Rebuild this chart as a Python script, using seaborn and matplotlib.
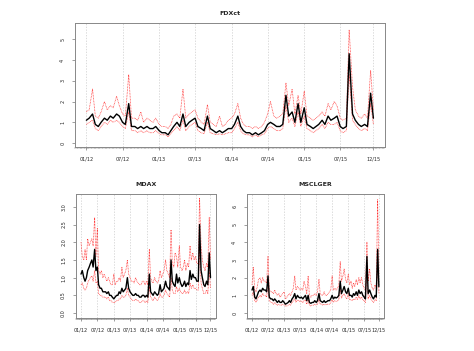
import seaborn as sns
import matplotlib.pyplot as plt
import matplotlib.dates as mdates
import pandas as pd

# semi-monthly dates, Jan 2012 - Dec 2015
dates = pd.date_range("2012-01-01", periods=96, freq="SMS")

fdx_mid = [1.1, 1.2, 1.4, 0.9, 0.8, 1.0, 1.2, 1.1, 1.3, 1.2, 1.4, 1.3, 1.0, 0.9, 1.9, 0.8, 0.8, 0.7, 0.8, 0.7, 0.8, 0.7, 0.7, 0.8,
           0.6, 0.5, 0.5, 0.4, 0.6, 0.8, 1.0, 0.8, 1.4, 0.8, 1.0, 1.1, 1.2, 0.8, 0.7, 0.6, 1.3, 0.7, 0.6, 0.5, 0.6, 0.5, 0.6, 0.7,
           0.7, 0.9, 1.3, 0.8, 0.6, 0.5, 0.5, 0.4, 0.5, 0.4, 0.5, 0.6, 0.9, 1.0, 0.9, 0.8, 0.8, 0.9, 2.3, 1.3, 1.5, 1.0, 1.9, 1.0,
           1.7, 0.9, 0.8, 0.7, 0.8, 0.9, 1.1, 0.9, 1.3, 1.1, 1.2, 1.3, 0.8, 0.7, 0.8, 4.3, 1.4, 1.1, 0.9, 0.8, 0.9, 0.8, 2.4, 1.2]
fdx_up = [1.5, 1.6, 2.6, 1.3, 1.2, 1.5, 2.0, 1.6, 1.8, 1.7, 2.25, 1.8, 1.4, 1.3, 3.3, 1.2, 1.2, 1.1, 1.5, 1.0, 1.2, 1.1, 1.0, 1.2,
          0.9, 0.8, 0.8, 0.7, 0.9, 1.3, 1.4, 1.2, 2.6, 1.2, 1.4, 1.5, 1.6, 1.2, 1.0, 0.9, 1.85, 1.0, 0.9, 0.8, 1.3, 0.8, 0.9, 1.1,
          1.2, 1.4, 1.9, 1.2, 0.9, 0.8, 0.8, 0.7, 0.8, 0.7, 0.8, 1.0, 1.4, 2.0, 1.3, 1.2, 1.3, 1.4, 2.9, 1.8, 2.6, 1.4, 2.3, 1.4,
          2.5, 1.3, 1.2, 1.1, 1.2, 1.3, 1.5, 1.3, 1.9, 1.6, 2.0, 1.8, 1.2, 1.1, 1.2, 5.45, 2.7, 1.6, 1.3, 1.2, 1.4, 1.2, 3.5, 1.6]
fdx_lo = [0.9, 1.0, 1.1, 0.7, 0.6, 0.8, 1.0, 0.9, 1.1, 1.0, 1.1, 1.0, 0.8, 0.7, 1.5, 0.6, 0.6, 0.5, 0.6, 0.5, 0.6, 0.5, 0.5, 0.6,
          0.45, 0.4, 0.4, 0.3, 0.45, 0.6, 0.8, 0.6, 1.1, 0.6, 0.8, 0.9, 1.0, 0.6, 0.5, 0.45, 1.0, 0.5, 0.45, 0.4, 0.45, 0.4, 0.45, 0.5,
          0.5, 0.7, 1.0, 0.6, 0.45, 0.4, 0.4, 0.3, 0.4, 0.3, 0.4, 0.45, 0.7, 0.8, 0.7, 0.6, 0.6, 0.7, 1.8, 1.0, 1.2, 0.8, 1.5, 0.8,
          1.3, 0.7, 0.6, 0.5, 0.6, 0.7, 0.9, 0.7, 1.0, 0.9, 0.9, 1.0, 0.6, 0.5, 0.6, 3.3, 1.1, 0.9, 0.7, 0.6, 0.7, 0.6, 1.9, 0.9]

mdax_mid = [1.1, 1.2, 1.0, 0.9, 1.0, 1.2, 1.3, 1.4, 1.5, 1.3, 1.8, 1.2, 1.3, 0.8, 0.7, 0.7, 0.6, 0.6, 0.6, 0.55, 0.6, 0.5, 0.5, 0.45,
            0.4, 0.45, 0.5, 0.5, 0.6, 0.55, 0.7, 0.6, 0.65, 0.7, 1.0, 0.7, 0.6, 0.55, 0.5, 0.5, 0.55, 0.5, 0.5, 0.45, 0.45, 0.5, 0.5, 0.45,
            0.5, 0.45, 1.1, 0.6, 0.55, 0.5, 0.6, 0.55, 0.5, 0.55, 0.8, 0.6, 0.65, 0.7, 0.9, 0.75, 0.7, 0.65, 1.5, 0.9, 0.8, 0.75, 1.1, 0.85,
            1.0, 0.85, 0.75, 0.8, 0.9, 0.75, 0.85, 0.8, 1.2, 0.95, 1.1, 1.0, 1.0, 0.9, 0.9, 2.5, 1.2, 1.0, 0.8, 0.75, 0.9, 0.8, 1.7, 1.0]
mdax_up = [2.0, 1.6, 1.5, 1.8, 1.5, 2.1, 1.9, 2.0, 2.1, 1.9, 2.7, 1.6, 2.4, 1.2, 1.1, 1.2, 1.0, 1.1, 1.0, 0.9, 1.0, 0.9, 0.8, 0.8,
           1.1, 0.8, 0.9, 0.9, 1.0, 0.9, 1.3, 1.0, 1.1, 1.2, 1.5, 1.1, 1.0, 0.9, 0.9, 0.85, 1.0, 0.9, 0.85, 0.8, 0.8, 0.9, 0.9, 0.8,
           0.9, 0.8, 1.8, 1.0, 0.9, 0.85, 1.0, 0.9, 0.85, 0.9, 1.2, 1.0, 1.1, 1.2, 1.5, 1.2, 1.1, 1.0, 2.35, 1.4, 1.3, 1.7, 1.6, 1.3,
           1.9, 1.3, 1.2, 1.3, 1.5, 1.2, 1.4, 1.3, 1.9, 1.5, 1.7, 1.5, 1.6, 1.4, 1.4, 3.25, 1.9, 1.5, 1.3, 1.2, 1.4, 1.3, 2.7, 1.5]
mdax_lo = [0.8, 0.85, 0.7, 0.65, 0.7, 0.85, 0.95, 1.0, 1.05, 0.9, 1.2, 0.85, 0.9, 0.55, 0.5, 0.5, 0.45, 0.45, 0.45, 0.4, 0.45, 0.35, 0.35, 0.3,
           0.3, 0.3, 0.35, 0.35, 0.4, 0.4, 0.5, 0.45, 0.45, 0.5, 0.7, 0.5, 0.45, 0.4, 0.35, 0.35, 0.4, 0.35, 0.35, 0.3, 0.3, 0.35, 0.35, 0.3,
           0.35, 0.3, 0.75, 0.45, 0.4, 0.35, 0.45, 0.4, 0.35, 0.4, 0.55, 0.45, 0.45, 0.5, 0.65, 0.55, 0.5, 0.45, 1.0, 0.65, 0.55, 0.55, 0.75, 0.6,
           0.7, 0.6, 0.55, 0.55, 0.65, 0.55, 0.6, 0.55, 0.85, 0.7, 0.8, 0.7, 0.7, 0.65, 0.65, 1.8, 0.85, 0.7, 0.55, 0.55, 0.65, 0.55, 1.2, 0.7]

mscl_mid = [1.3, 1.5, 0.9, 0.8, 1.0, 1.2, 1.3, 1.2, 1.4, 1.3, 1.3, 1.2, 2.1, 0.9, 0.8, 0.8, 0.7, 0.8, 0.7, 0.6, 0.7, 0.6, 0.6, 0.7,
            0.6, 0.5, 0.55, 0.6, 0.7, 0.6, 0.8, 0.9, 1.1, 0.8, 1.0, 0.9, 0.85, 0.9, 0.8, 0.9, 1.0, 0.7, 1.0, 0.6, 0.55, 0.6, 0.6, 0.7,
            0.6, 0.7, 1.1, 0.7, 0.65, 0.6, 0.7, 0.6, 0.65, 0.7, 0.7, 0.8, 1.0, 0.8, 0.9, 0.85, 0.9, 1.0, 1.8, 1.1, 1.3, 1.5, 1.2, 1.1,
            1.4, 1.0, 1.0, 0.9, 1.1, 1.0, 1.2, 1.0, 1.3, 1.1, 1.2, 1.0, 0.9, 0.8, 3.2, 1.1, 1.3, 1.1, 0.9, 0.8, 1.0, 0.9, 3.6, 1.5]
mscl_up = [1.6, 2.6, 1.3, 1.2, 1.5, 1.9, 2.0, 1.7, 2.0, 1.8, 1.8, 1.7, 3.2, 1.3, 1.2, 1.2, 1.1, 1.3, 1.1, 1.0, 1.1, 0.9, 1.0, 1.1,
           1.2, 0.8, 0.9, 1.0, 1.1, 1.0, 1.2, 1.4, 2.1, 1.3, 1.5, 1.4, 1.3, 1.4, 1.3, 1.8, 1.5, 1.1, 2.1, 1.0, 0.9, 1.0, 1.0, 1.1,
           1.0, 1.2, 1.9, 1.1, 1.0, 1.0, 1.2, 1.0, 1.0, 1.1, 1.2, 1.3, 2.1, 1.3, 1.4, 1.3, 1.4, 1.6, 2.9, 1.8, 2.1, 2.5, 1.9, 1.7,
           2.2, 1.6, 1.8, 1.4, 1.7, 1.5, 1.9, 1.6, 2.0, 1.7, 2.0, 1.6, 1.4, 1.3, 4.0, 1.8, 2.5, 1.7, 1.4, 1.3, 1.6, 1.4, 6.4, 2.2]
mscl_lo = [1.0, 1.2, 0.7, 0.6, 0.75, 0.9, 1.0, 0.9, 1.1, 1.0, 1.0, 0.9, 1.6, 0.7, 0.6, 0.6, 0.5, 0.6, 0.5, 0.45, 0.5, 0.45, 0.45, 0.5,
           0.45, 0.4, 0.4, 0.45, 0.5, 0.45, 0.6, 0.7, 0.8, 0.6, 0.75, 0.7, 0.65, 0.7, 0.6, 0.7, 0.75, 0.5, 0.75, 0.45, 0.4, 0.45, 0.45, 0.5,
           0.45, 0.5, 0.8, 0.5, 0.5, 0.45, 0.5, 0.45, 0.5, 0.5, 0.5, 0.6, 0.75, 0.6, 0.7, 0.65, 0.7, 0.75, 1.4, 0.85, 1.0, 1.1, 0.9, 0.8,
           1.1, 0.75, 0.75, 0.7, 0.8, 0.75, 0.9, 0.75, 1.0, 0.8, 0.9, 0.75, 0.7, 0.6, 2.6, 0.8, 1.0, 0.8, 0.7, 0.6, 0.75, 0.7, 2.8, 1.1]

sns.set_style("white")

fig = plt.figure(figsize=(4.74, 3.51), dpi=100)
ax1 = fig.add_axes([0.158, 0.581, 0.654, 0.353])
ax2 = fig.add_axes([0.160, 0.094, 0.295, 0.353])
ax3 = fig.add_axes([0.521, 0.094, 0.289, 0.353])

major = list(pd.date_range("2012-01-01", "2015-07-01", freq="6MS")) + [dates[-1]]
major_lab = [d.strftime("%m/%y") for d in major]

panels = [
    (ax1, "FDXct", fdx_mid, fdx_up, fdx_lo, (-0.19, 5.77), [0, 1, 2, 3, 4, 5], ["0", "1", "2", "3", "4", "5"]),
    (ax2, "MDAX", mdax_mid, mdax_up, mdax_lo, (-0.14, 3.36), [0, 0.5, 1, 1.5, 2, 2.5, 3],
     ["0.0", "0.5", "1.0", "1.5", "2.0", "2.5", "3.0"]),
    (ax3, "MSCLGER", mscl_mid, mscl_up, mscl_lo, (-0.28, 6.72), [0, 1, 2, 3, 4, 5, 6],
     ["0", "1", "2", "3", "4", "5", "6"]),
]

for ax, name, mid, up, lo, ylim, yt, ytl in panels:
    for d in major:
        ax.axvline(d, color="#cccccc", lw=0.5, ls=(0, (2, 2)), zorder=0)
    sns.lineplot(x=dates, y=up, ax=ax, color="#ff3030", lw=0.55, linestyle=(0, (1, 1)))
    sns.lineplot(x=dates, y=lo, ax=ax, color="#ff3030", lw=0.55, linestyle=(0, (1, 1)))
    sns.lineplot(x=dates, y=mid, ax=ax, color="black", lw=1.0)
    span = dates[-1] - dates[0]
    ax.set_xlim(dates[0] - span * 0.04, dates[-1] + span * 0.04)
    ax.set_ylim(*ylim)
    ax.set_yticks(yt)
    ax.set_yticklabels(ytl, rotation=90, va="center", fontsize=3.5)
    ax.set_xticks(major)
    ax.set_xticklabels(major_lab, fontsize=3.5)
    ax.xaxis.set_minor_locator(mdates.WeekdayLocator(byweekday=0))
    ax.tick_params(axis="both", which="major", length=2, width=0.4, color="#555555", pad=5, direction="out")
    ax.tick_params(axis="x", which="minor", length=1.2, width=0.3, color="#777777", direction="out")
    ax.tick_params(bottom=True, left=True)
    ax.tick_params(axis="x", which="minor", bottom=True)
    ax.set_xlabel("")
    ax.set_ylabel("")
    for s in ax.spines.values():
        s.set_color("#888888")
        s.set_linewidth(0.7)
    ax.set_title(name, fontsize=4.5, fontweight="bold", pad=6)

fig.savefig("out.png", dpi=100)
